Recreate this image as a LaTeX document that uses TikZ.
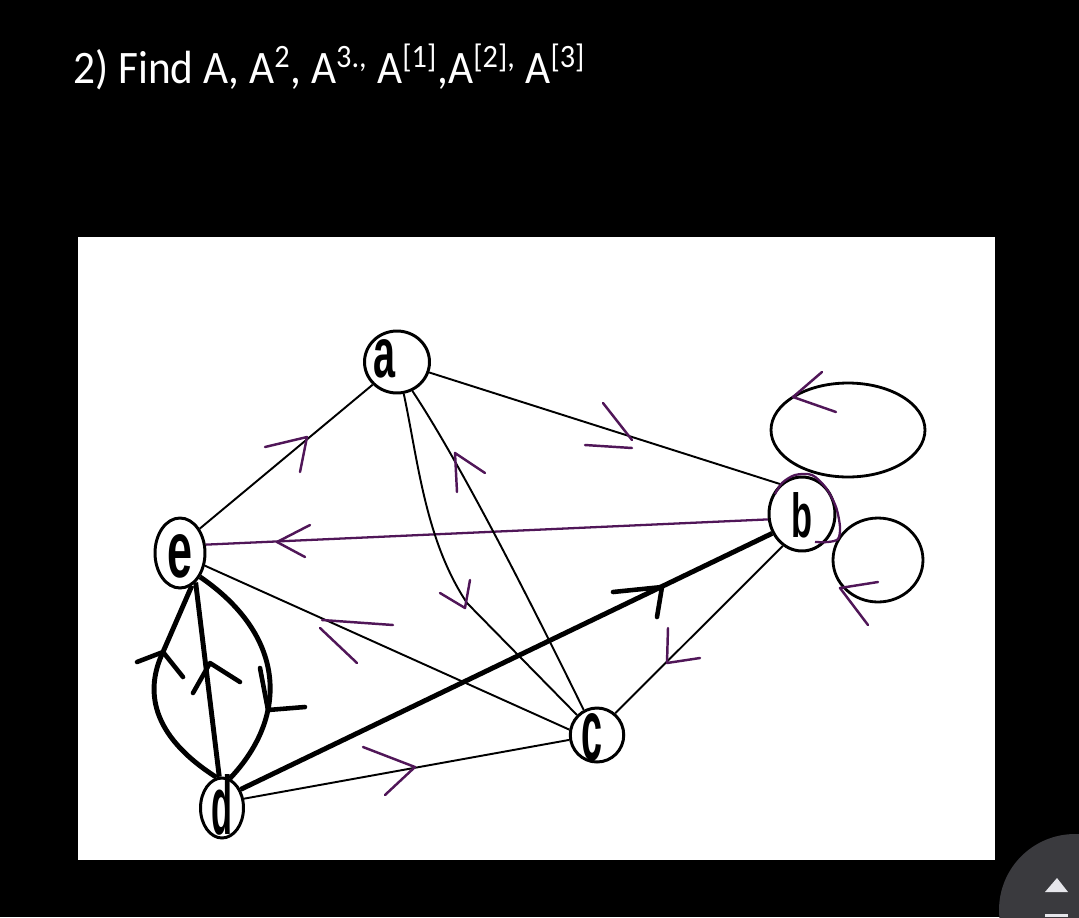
\documentclass[tikz,border=0pt]{standalone}
\usepackage{fontspec}
\setmainfont{Carlito}
\newfontfamily\lblfont{Liberation Sans}
\usetikzlibrary{shapes.geometric}
\definecolor{pur}{RGB}{80,22,88}
\definecolor{uigray}{RGB}{58,58,62}
\definecolor{uiwhite}{RGB}{230,230,235}
\newcommand\lettr[3]{\resizebox{#1}{#2}{\lblfont\bfseries #3}}
\begin{document}
\begin{tikzpicture}[x=0.02cm,y=-0.02cm,
  vtx/.style={draw=black, line width=1.7pt, ellipse, fill=white, inner sep=0pt},
  lbl/.style={inner sep=0pt},
  edge/.style={black, line width=1.1pt},
  thk/.style={black, line width=2.8pt},
  pedge/.style={pur, line width=1.3pt},
  chev/.style={pur, line width=1.4pt, line cap=round, line join=round},
  bchev/.style={black, line width=2.6pt, line cap=round, line join=round},
  loopl/.style={black, line width=1.6pt}
]
\clip (0,0) rectangle (1079,917);
\fill[black] (0,0) rectangle (1079,917);
\fill[white] (78,237) rectangle (995,860);
\node[anchor=base west, text=white, font=\fontsize{26.5}{30}\selectfont, inner sep=0pt] (title) at (73,83)
  {\scalebox{0.93}[1]{2) Find A, A\textsuperscript{2}, A\textsuperscript{3.,} A\textsuperscript{[1]},A\textsuperscript{[2],} A\textsuperscript{[3]}}};

% vertices
\node[vtx, minimum width=1.3cm, minimum height=1.24cm] (a) at (397,362) {};
\node[vtx, minimum width=1.32cm, minimum height=1.48cm] (b) at (802,514) {};
\node[vtx, minimum width=1.07cm, minimum height=1.08cm] (c) at (597,735) {};
\node[vtx, minimum width=0.86cm, minimum height=1.2cm] (d) at (222,808) {};
\node[vtx, minimum width=1.0cm, minimum height=1.4cm] (e) at (180,553) {};
\node[lbl] (aL) at (384,359) {\lettr{0.44cm}{0.76cm}{a}};
\node[lbl] (bL) at (802,515) {\lettr{0.42cm}{0.9cm}{b}};
\node[lbl] (cL) at (592,737) {\lettr{0.42cm}{0.94cm}{c}};
\node[lbl] (dL) at (222,805) {\lettr{0.42cm}{1.2cm}{d}};
\node[lbl] (eL) at (180,556) {\lettr{0.5cm}{0.86cm}{e}};

% edges
\draw[edge] (e.51) -- (a.-137);
\draw[edge] (a.-18) -- (b.126);
\draw[pedge] (b.-171) -- (e.18);
\draw[edge] (a.-78) .. controls (418,460) and (425,540) .. (467,603) -- (c.135);
\draw[edge] (a.-62) .. controls (455,455) and (520,580) .. (c.118);
\draw[edge] (e.-27) -- (c.169);
\draw[thk] (d.45) -- (b.-147);
\draw[edge] (d.23) -- (c.-170);
\draw[edge] (c.50) -- (b.-121);
\draw[thk] (d.95) -- (e.-62);
\draw[thk] (d.100) .. controls (150,735) and (145,690) .. (163,652) -- (e.-70);
\draw[thk] (e.-50) .. controls (285,635) and (290,715) .. (d.75);

% loops at b
\draw[loopl] (848,430) ellipse [x radius=1.54cm, y radius=0.94cm];
\draw[loopl] (878,560) ellipse [x radius=0.9cm, y radius=0.84cm];
\draw[pedge] plot[smooth] coordinates {(775,494) (782,483) (795,475) (812,475) (826,488) (836,507) (840,527) (838,539) (828,542) (815,542)};

% arrowheads
\draw[chev] (265,447) -- (307,437) -- (300,472);
\draw[chev] (603,403) -- (632,440);
\draw[chev] (585,445) -- (632,448);
\draw[chev] (310,525) -- (277,542) -- (305,557);
\draw[chev] (470,580) -- (465,608) -- (440,593);
\draw[chev] (485,473) -- (455,453) -- (457,492);
\draw[chev] (322,620) -- (393,625);
\draw[chev] (320,628) -- (357,663);
\draw[bchev] (613,592) -- (662,587) -- (657,617);
\draw[chev] (363,747) -- (415,767) -- (385,795);
\draw[chev] (668,628) -- (667,663) -- (700,658);
\draw[chev] (822,372) -- (793,397) -- (836,412);
\draw[chev] (878,582) -- (840,588) -- (868,625);
\draw[bchev] (137,662) -- (163,652) -- (183,677);
\draw[bchev] (193,693) -- (210,663) -- (240,682);
\draw[bchev] (260,668) -- (268,710) -- (305,707);

% UI corner
\fill[uigray] (1075,910) circle [radius=1.52cm];
\fill[uiwhite] (1057,878) -- (1068,892) -- (1045,892) -- cycle;
\fill[uiwhite] (1045,914) rectangle (1068,917);
\end{tikzpicture}
\end{document}
